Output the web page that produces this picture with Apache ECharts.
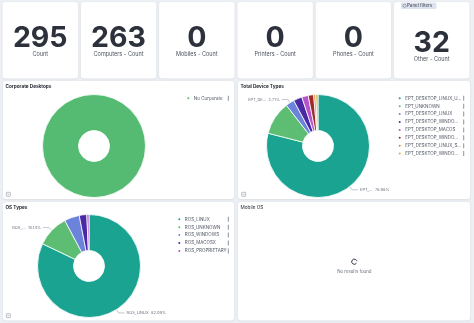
<!DOCTYPE html>
<html><head><meta charset="utf-8">
<script src="https://cdn.jsdelivr.net/npm/echarts@6/dist/echarts.min.js"></script>
<style>html,body{margin:0;padding:0;background:#ECEFF3;}#c{width:474px;height:323px;}</style>
</head><body><div id="c"></div>
<script>
const metricValues = [295, 263, 0, 0, 0, 32];
const metricLabels = ['Count', 'Computers - Count', 'Mobiles - Count', 'Printers - Count', 'Phones - Count', 'Other - Count'];

const corpNames = ['No Corporate'];
const corpValues = [263];

const deviceNames = ['EPT_DESKTOP_LINUX_UBUNTU', 'EPT_UNKNOWN', 'EPT_DESKTOP_LINUX', 'EPT_DESKTOP_WINDOWS_10', 'EPT_DESKTOP_MACOS', 'EPT_DESKTOP_WINDOWS_SERVER', 'EPT_DESKTOP_LINUX_SERVER', 'EPT_DESKTOP_WINDOWS_11'];
const deviceValues = [233, 31, 8, 8, 6, 5, 2, 2];
const deviceShortLabels = ['EPT_...', '', 'EPT_DE...', '', '', '', '', ''];

const osNames = ['ROS_LINUX', 'ROS_UNKNOWN', 'ROS_WINDOWS', 'ROS_MACOSX', 'ROS_PROPRIETARY'];
const osValues = [82.09, 10.14, 4.73, 2.36, 0.68];
const osShortLabels = ['ROS_LINUX', 'ROS_...', '', '', ''];

const panelTitles = ['Corporate Desktops', 'Total Device Types', 'OS Types', 'Mobile OS'];

const deviceColors = ['#1BA391', '#5DBE73', '#6C83DC', '#4B28A6', '#B456C9', '#9E2A2B', '#E2893A', '#D9B03F'];
const osColors = ['#1BA391', '#5DBE73', '#6C83DC', '#4B28A6', '#B456C9'];
const corpColor = '#56BB72';

const FONT = 'Inter, "Noto Sans", sans-serif';
const chart = echarts.init(document.getElementById('c'), null, {renderer: 'canvas'});

const g = [];
function panel(x, y, w, h) {
  g.push({type: 'rect', z: 0, shape: {x, y, width: w, height: h, r: 3},
    style: {fill: '#FFFFFF', shadowBlur: 2, shadowColor: 'rgba(0,0,0,0.10)', shadowOffsetY: 0.5}});
}
function txt(x, y, t, size, color, weight, align) {
  g.push({type: 'text', z: 50, style: {x, y, text: t, fontSize: size, fill: color, fontWeight: weight || 'normal',
    fontFamily: FONT, align: align || 'left', verticalAlign: 'middle'}});
}
function dots(x, y) {
  g.push({type: 'rect', z: 50, shape: {x: x - 0.5, y: y - 2.5, width: 1, height: 5}, style: {fill: '#8C93A0'}});
}
function icon(x, y) {
  g.push({type: 'rect', z: 50, shape: {x: x - 2, y: y - 2, width: 4, height: 4, r: 0.5}, style: {fill: 'none', stroke: '#9AA2AE', lineWidth: 0.7}});
  g.push({type: 'line', z: 50, shape: {x1: x - 1, y1: y, x2: x + 1, y2: y}, style: {stroke: '#9AA2AE', lineWidth: 0.6}});
}

// metric panels
for (let i = 0; i < 6; i++) {
  const x = 2.5 + i * 78.3, w = 75.5;
  panel(x, 2, w, 76.5);
  const cx = x + w / 2;
  const off = i === 5 ? 5 : 0;
  txt(cx, 38 + off, String(metricValues[i]), 28.5, '#2D313B', 'bold', 'center');
  txt(cx, 54.5 + off, metricLabels[i], 5.5, '#4A505C', 'normal', 'center');
}
// panel filters badge
g.push({type: 'rect', z: 50, shape: {x: 401, y: 2.5, width: 35.5, height: 6.5, r: 1.5}, style: {fill: '#DDE3EE'}});
g.push({type: 'circle', z: 51, shape: {cx: 404.5, cy: 5.75, r: 1.6}, style: {fill: 'none', stroke: '#5A6070', lineWidth: 0.5}});
txt(407, 5.9, 'Panel filters', 4.5, '#3A3F4B', 'normal', 'left');

// chart panels
panel(3, 81, 231, 118);
panel(238, 81, 232, 118);
panel(3, 202, 231, 118.5);
panel(238, 202, 232, 118.5);
txt(5.5, 86.8, panelTitles[0], 4.7, '#1F222A', 'bold');
txt(240.5, 86.8, panelTitles[1], 4.7, '#1F222A', 'bold');
txt(5.5, 207.8, panelTitles[2], 4.7, '#1F222A', 'bold');
txt(240.5, 207.8, panelTitles[3], 4.7, '#1F222A', 'normal');
icon(8.3, 194.3); icon(243.7, 194.3); icon(8.3, 315.7);
dots(228.3, 98.3);
for (let i = 0; i < deviceNames.length; i++) dots(463.7, 98.3 + i * 7.9);
for (let i = 0; i < osNames.length; i++) dots(228.3, 219.3 + i * 7.9);

// no results
g.push({type: 'arc', z: 50, shape: {cx: 354.3, cy: 261.7, r: 2.6, startAngle: 0.6, endAngle: Math.PI * 2 - 0.2}, style: {stroke: '#343741', lineWidth: 1, fill: 'none'}});
txt(354.3, 272, 'No results found', 4.4, '#6A717D', 'normal', 'center');

function legend(names, left, top) {
  return {orient: 'vertical', left, top, data: names, icon: 'circle', itemWidth: 4, itemHeight: 4, itemGap: 1.9,
    padding: 0, selectedMode: false,
    textStyle: {fontSize: 4.5, color: '#535966', fontFamily: FONT, lineHeight: 6, width: 58, overflow: 'truncate', ellipsis: '...', padding: [0, 0, 0, -1.5]}};
}

function pieData(names, values, colors, shorts) {
  return names.map((n, i) => ({
    name: n, value: values[i], itemStyle: {color: colors[i]},
    label: {show: !!(shorts && shorts[i])},
    labelLine: {show: !!(shorts && shorts[i])}
  }));
}
function pie(center, data, shorts) {
  return {type: 'pie', center, radius: [15.5, 51.5], startAngle: 90, clockwise: true, silent: true,
    avoidLabelOverlap: false,
    itemStyle: {borderColor: '#FFFFFF', borderWidth: 0.8},
    label: {position: 'outside', fontSize: 4, color: '#6A717D', fontFamily: FONT, distanceToLabelLine: 2,
      formatter: p => shorts[p.dataIndex] + '  ' + p.percent.toFixed(2) + '%'},
    labelLine: {length: 4, length2: 6, lineStyle: {color: '#9AA2AE', width: 0.6}},
    data};
}

chart.setOption({
  animation: false,
  backgroundColor: '#ECEFF3',
  graphic: {elements: g},
  legend: [
    legend(corpNames, 185.3, 95.3),
    legend(deviceNames, 396.7, 95.3),
    legend(osNames, 176.3, 216.3)
  ],
  series: [
    pie([94, 146], pieData(corpNames, corpValues, [corpColor], null), ['']),
    pie([318, 146], pieData(deviceNames, deviceValues, deviceColors, deviceShortLabels), deviceShortLabels),
    pie([89, 266], pieData(osNames, osValues, osColors, osShortLabels), osShortLabels)
  ]
});
</script></body></html>
